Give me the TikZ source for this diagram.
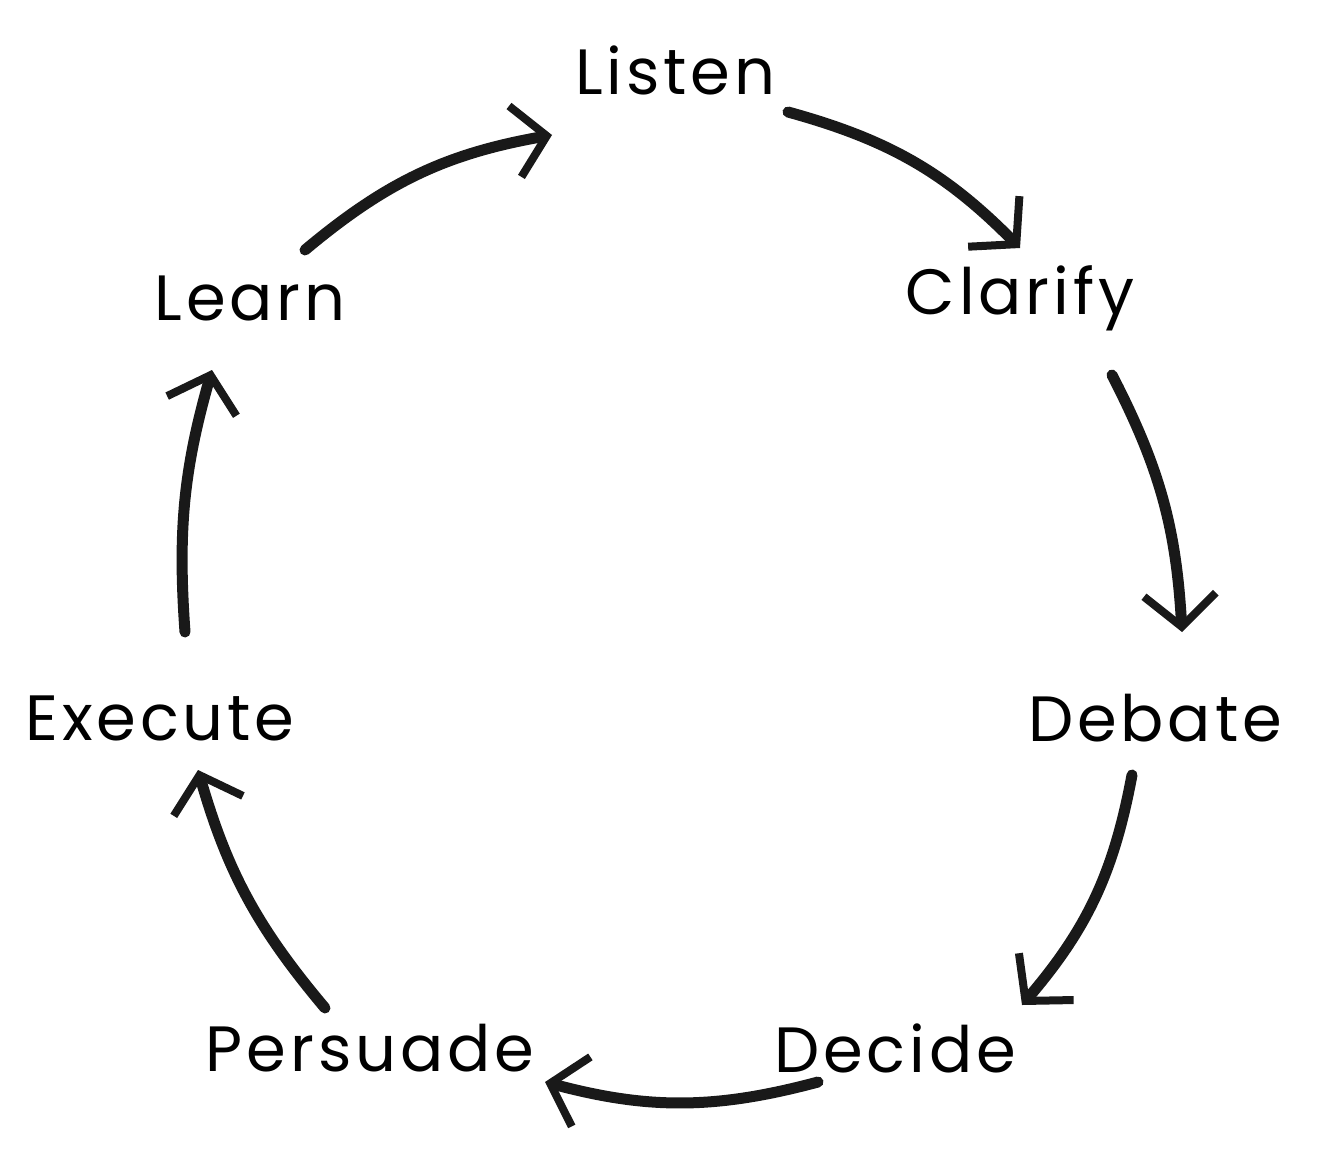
\documentclass[tikz,border=0pt]{standalone}
\usepackage{fontspec}
\setmainfont{Poppins}[LetterSpace=6]
\usetikzlibrary{arrows.meta}
\begin{document}
\begin{tikzpicture}[x=1pt,y=-1pt,
  lbl/.style={font=\fontsize{64}{68}\selectfont, inner sep=0pt},
  arr/.style={line width=11pt, line cap=round, draw=black!90,
    -{Straight Barb[length=32pt,width=72pt,line width=8pt]}}]
\fill[white] (0,0) rectangle (1317,1167);
\node[lbl] (listen) at (675,70) {Listen};
\node[lbl] (clarify) at (1020,298) {Clarify};
\node[lbl] (debate) at (1155,718) {Debate};
\node[lbl] (decide) at (895,1048) {Decide};
\node[lbl] (persuade) at (370,1048) {Persuade};
\node[lbl] (execute) at (160,718) {Execute};
\node[lbl] (learn) at (250,298) {Learn};
\coordinate (a1) at (305,250); \coordinate (b1) at (552,135);
\coordinate (a2) at (788,112); \coordinate (b2) at (1020,248);
\coordinate (a3) at (1112,375); \coordinate (b3) at (1182,632);
\coordinate (a4) at (1132,775); \coordinate (b4) at (1022,1005);
\coordinate (a5) at (818,1082); \coordinate (b5) at (545,1082);
\coordinate (a6) at (325,1008); \coordinate (b6) at (198,770);
\coordinate (a7) at (185,632); \coordinate (b7) at (212,370);
\draw[arr] (a1) to[bend left=15] (b1);
\draw[arr] (a2) to[bend left=15] (b2);
\draw[arr] (a3) to[bend left=12] (b3);
\draw[arr] (a4) to[bend left=15] (b4);
\draw[arr] (a5) to[bend left=15] (b5);
\draw[arr] (a6) to[bend left=12] (b6);
\draw[arr] (a7) to[bend left=10] (b7);
\end{tikzpicture}
\end{document}
